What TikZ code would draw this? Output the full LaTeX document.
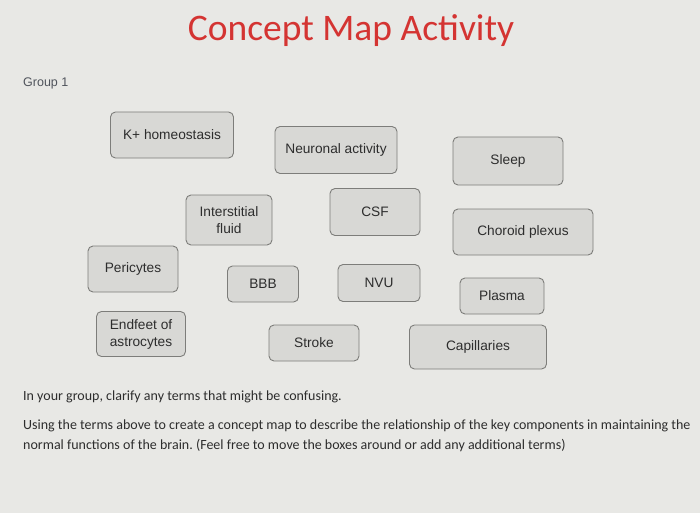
\documentclass[tikz,border=0pt]{standalone}
\usepackage{fontspec}
\setmainfont{Carlito}
\newfontfamily\arialf{Liberation Sans}
\frenchspacing
\definecolor{bgc}{RGB}{232,232,229}
\definecolor{boxf}{RGB}{216,216,213}
\definecolor{boxd}{RGB}{125,125,122}
\definecolor{titlered}{RGB}{212,52,50}
\definecolor{txt}{RGB}{45,45,45}
\definecolor{grp}{RGB}{80,84,92}
\begin{document}
\begin{tikzpicture}[x=1pt,y=-1pt,
  term/.style={draw=boxd, fill=boxf, line width=0.9pt, rounded corners=5pt,
    font=\arialf\fontsize{13.7}{17}\selectfont, text=txt, align=center,
    inner sep=0pt},
  ]
\fill[bgc] (0,0) rectangle (700,513);
\useasboundingbox (0,0) rectangle (700,513);
\node[text=titlered, font=\fontsize{37.5}{40}\selectfont] (title) at (351,31) {Concept Map Activity};
\node[anchor=west, text=grp, inner sep=0pt, font=\arialf\fontsize{12.5}{14}\selectfont] (group) at (23,83) {Group 1};

\node[term, minimum width=123, minimum height=46] (k) at (172,135) {K+ homeostasis};
\node[term, minimum width=122, minimum height=47] (neur) at (336,150) {Neuronal activity};
\node[term, minimum width=110, minimum height=48] (sleep) at (508,161) {Sleep};
\node[term, minimum width=86, minimum height=50] (isf) at (229,220) {Interstitial\\fluid};
\node[term, minimum width=90, minimum height=47] (csf) at (375,212) {CSF};
\node[term, minimum width=140, minimum height=46] (chor) at (523,232) {Choroid plexus};
\node[term, minimum width=90, minimum height=46] (peri) at (133,269) {Pericytes};
\node[term, minimum width=71, minimum height=36] (bbb) at (263,284) {BBB};
\node[term, minimum width=82, minimum height=37] (nvu) at (379,283) {NVU};
\node[term, minimum width=84, minimum height=36] (plasma) at (502,296) {Plasma};
\node[term, minimum width=89, minimum height=45] (endf) at (141,334) {Endfeet of\\astrocytes};
\node[term, minimum width=90, minimum height=36] (stroke) at (314,343) {Stroke};
\node[term, minimum width=137, minimum height=44] (cap) at (478,347) {Capillaries};

\node[anchor=west, text=txt, inner sep=0pt, font=\fontsize{14}{15}\selectfont] (l1) at (23,397) {In your group, clarify any terms that might be confusing.};
\node[anchor=north west, text=txt, align=left, font=\fontsize{14}{19.5}\selectfont, inner sep=0pt] (l2) at (23,420) {Using the terms above to create a concept map to describe the relationship of the key components in maintaining the\\normal functions of the brain. (Feel free to move the boxes around or add any additional terms)};
\end{tikzpicture}
\end{document}
